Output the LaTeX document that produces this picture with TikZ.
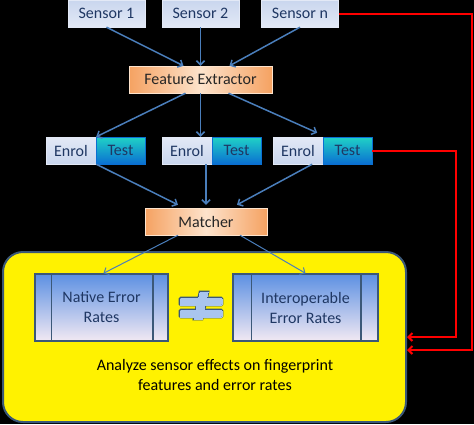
\documentclass[tikz,border=0pt]{standalone}
\usepackage{fontspec}
\setmainfont{Carlito}
\usetikzlibrary{shapes,arrows,arrows.meta}

\definecolor{navytext}{HTML}{1F3763}
\definecolor{paleblue}{HTML}{C9D6EE}
\definecolor{lightblue}{HTML}{E3E9F6}
\definecolor{peach}{HTML}{FDE3CC}
\definecolor{deeporange}{HTML}{F5A262}
\definecolor{testteal}{HTML}{20D2C6}
\definecolor{testblue}{HTML}{0A6FD2}
\definecolor{arrowblue}{HTML}{4A7EBB}
\definecolor{slateline}{HTML}{3B5878}
\definecolor{errtop}{HTML}{5C90E2}
\definecolor{errbottom}{HTML}{F2E9F3}
\definecolor{neqfill}{HTML}{A9C5EE}

\begin{document}
\begin{tikzpicture}[x=1pt, y=1pt, node distance=1cm, auto]
        % Styles
        \tikzstyle{box} = [rectangle, draw=lightblue, inner sep=0pt, minimum height=27pt, text=navytext, font=\fontsize{16}{18}\selectfont]
        \tikzstyle{sensor} = [box, top color=paleblue, bottom color=lightblue, minimum width=77pt]
        \tikzstyle{enrol} = [box, top color=lightblue, bottom color=paleblue, minimum width=50pt]
        \tikzstyle{test} = [box, draw=testblue, top color=testteal, bottom color=testblue, minimum width=49pt]
        \tikzstyle{stage} = [box, draw=peach, left color=deeporange, right color=deeporange, middle color=peach, text=black!85]
        \tikzstyle{errbox} = [rectangle, draw=slateline, line width=1.5pt, top color=errtop, bottom color=errbottom, minimum height=67pt, inner sep=0pt, text=navytext, align=center, font=\fontsize{16}{20}\selectfont]
        \tikzstyle{procline} = [draw=slateline, line width=1.5pt]
        \tikzstyle{line} = [draw, -{Straight Barb[length=4pt, width=8pt]}, line width=1.5pt, arrowblue]
        \tikzstyle{thinline} = [draw, -{Straight Barb[length=4pt, width=8pt]}, line width=1pt, arrowblue]
        \tikzstyle{redline} = [draw, -{Straight Barb[length=4pt, width=8pt]}, line width=2pt, red]

        \path [use as bounding box, fill=black] (0,0) rectangle (474,-424);

        % Nodes
        \node [sensor] (s2) at (200.5,-13.5) {Sensor 2};
        \node [sensor, left of=s2, node distance=94pt] (s1) {Sensor 1};
        \node [sensor, right of=s2, node distance=99.5pt] (sn) {Sensor n};
        \node [stage, below of=s2, node distance=66pt, minimum width=143pt] (fe) {Feature Extractor};

        \node [enrol] (e2) at (187,-150.5) {Enrol};
        \node [test, right of=e2, node distance=49.5pt] (t2) {Test};
        \node [enrol, left of=e2, node distance=116pt] (e1) {Enrol};
        \node [test, right of=e1, node distance=49.5pt] (t1) {Test};
        \node [enrol, right of=e2, node distance=111pt] (e3) {Enrol};
        \node [test, right of=e3, node distance=49.5pt] (t3) {Test};

        \node [stage, minimum width=122pt] (matcher) at (206,-221.5) {Matcher};

        \node [rectangle, draw=slateline, line width=2pt, fill=yellow, rounded corners=20pt, minimum width=403pt, minimum height=170pt] (analysis) at (204.5,-337) {};
        \node [errbox, minimum width=133pt] (native) at (101.5,-307.5) {Native Error\\Rates};
        \node [errbox, minimum width=145pt] (interop) at (305.5,-307.5) {Interoperable\\Error Rates};
        \path [procline] ([xshift=17pt]native.north west) -- ([xshift=17pt]native.south west);
        \path [procline] ([xshift=-16pt]native.north east) -- ([xshift=-16pt]native.south east);
        \path [procline] ([xshift=19pt]interop.north west) -- ([xshift=19pt]interop.south west);
        \path [procline] ([xshift=-18pt]interop.north east) -- ([xshift=-18pt]interop.south east);

        % Not-equal sign
        \foreach \w/\c in {2.6pt/slateline, 0pt/neqfill} {
            \path [draw=\c, fill=neqfill, line width=\w, rounded corners=1pt] (180,-298) rectangle (222,-305);
            \path [draw=\c, fill=neqfill, line width=\w, rounded corners=1pt] (180,-310) rectangle (222,-317);
            \path [draw=\c, fill=neqfill, line width=\w] (200,-292) -- (208,-292) -- (202,-319) -- (194,-319) -- cycle;
        }

        % Edges
        \path [line] (s1.south) -- ([xshift=-17pt]fe.north);
        \path [line] (s2.south) -- (fe.north);
        \path [line] (sn.south) -- ([xshift=29pt]fe.north);
        \path [line] ([xshift=-15pt]fe.south) -- (e1.north east);
        \path [line] (fe.south) -- (fe.south |- e2.north);
        \path [line] ([xshift=28pt]fe.south) -- ([xshift=-6pt,yshift=4pt]e3.north east);
        \path [line] (e1.south east) -- ([xshift=-28pt,yshift=3pt]matcher.north);
        \path [line] (matcher.north |- e2.south) -- ([yshift=3pt]matcher.north);
        \path [line] ([xshift=-11pt]e3.south east) -- ([xshift=31pt,yshift=3pt]matcher.north);
        \path [thinline] ([xshift=-28pt]matcher.south) -- ([xshift=2pt]native.north);
        \path [thinline] ([xshift=34pt]matcher.south) -- (interop.north);
        \path [redline] (sn.east) -- ++(133pt,0) |- ([yshift=-13pt]analysis.east);
        \path [redline] (t3.east) -- ++(84pt,0) |- (analysis.east);

        % Labels
        \node [align=center, font=\fontsize{16}{20}\selectfont] (summary) at (215,-375) {Analyze sensor effects on fingerprint\\features and error rates};
    \end{tikzpicture}
\end{document}
